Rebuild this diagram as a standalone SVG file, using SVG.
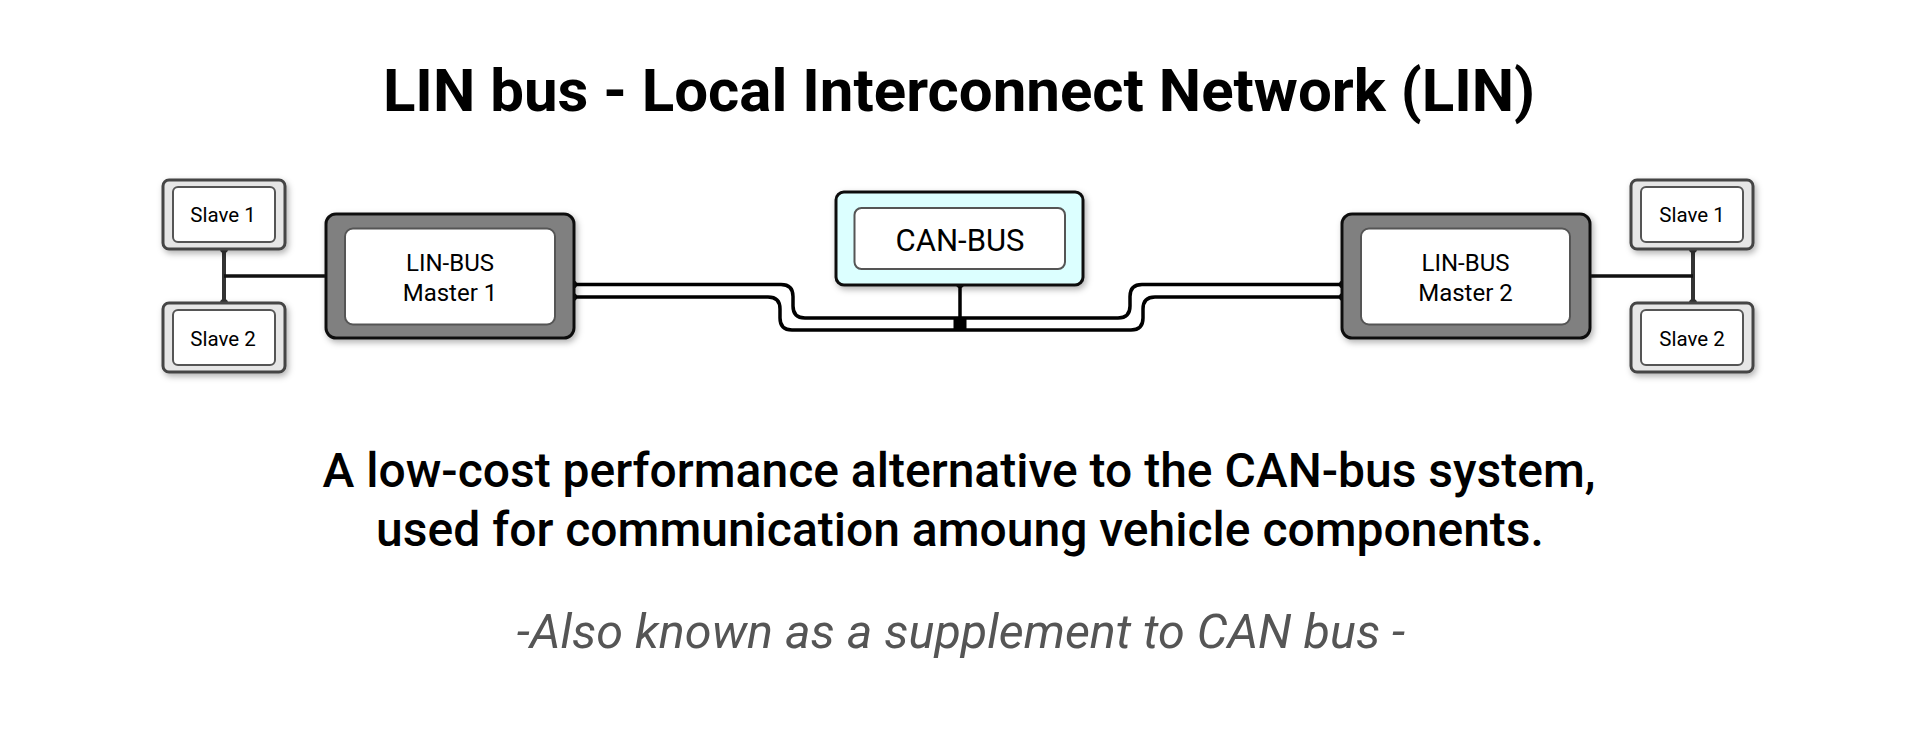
<svg xmlns="http://www.w3.org/2000/svg" width="1920" height="731" viewBox="0 0 1920 731">
<defs>
<filter id="sh" x="-20%" y="-20%" width="140%" height="150%">
<feDropShadow dx="2" dy="3" stdDeviation="3" flood-color="#000" flood-opacity="0.3"/>
</filter>
</defs>
<style>
.t{font-family:Roboto,"Liberation Sans",sans-serif;fill:#000;text-anchor:middle}
.sOut{fill:#e6e6e6;stroke:#444;stroke-width:3}
.sIn{fill:#fff;stroke:#555;stroke-width:2}
.mOut{fill:#808080;stroke:#111;stroke-width:3}
.mIn{fill:#fff;stroke:#555;stroke-width:2}
.cOut{fill:#dcffff;stroke:#111;stroke-width:3}
.bus{fill:none;stroke:#000;stroke-width:3.5}
.sl{fill:none;stroke:#333;stroke-width:4}
.hl{fill:none;stroke:#111;stroke-width:3.5}
.lbl{font-size:20.5px}
.mlbl{font-size:24px}
</style>
<rect width="1920" height="731" fill="#fff"/>
<text class="t" x="959" y="111" font-size="60" font-weight="700">LIN bus - Local Interconnect Network (LIN)</text>

<g id="connectors">
<path class="bus" d="M573 284.5 H781 Q793 284.5 793 296.5 V306 Q793 318 805 318 H1118 Q1130 318 1130 306 V296.5 Q1130 284.5 1142 284.5 H1343"/>
<path class="bus" d="M573 297 H768 Q780 297 780 309 V318 Q780 330 792 330 H1131 Q1143 330 1143 318 V309 Q1143 297 1155 297 H1343"/>
<line class="bus" x1="960" y1="284" x2="960" y2="322"/>
<rect x="953.5" y="318" width="13" height="13" fill="#000"/>
<circle cx="960" cy="284" r="4" fill="#000"/>
<circle cx="573" cy="284.5" r="4" fill="#000"/>
<circle cx="573" cy="297" r="4" fill="#000"/>
<circle cx="1343" cy="284.5" r="4" fill="#000"/>
<circle cx="1343" cy="297" r="4" fill="#000"/>
<line class="sl" x1="224" y1="249" x2="224" y2="303"/>
<line class="hl" x1="224" y1="276" x2="327" y2="276"/>
<circle cx="224" cy="249" r="4" fill="#333"/>
<circle cx="224" cy="303" r="4" fill="#333"/>
<line class="sl" x1="1693" y1="249" x2="1693" y2="303"/>
<line class="hl" x1="1589" y1="276" x2="1693" y2="276"/>
<circle cx="1693" cy="249" r="4" fill="#333"/>
<circle cx="1693" cy="303" r="4" fill="#333"/>
</g>

<g id="slave1-left">
<rect class="sOut" x="163" y="180" width="122" height="69" rx="6" filter="url(#sh)"/>
<rect class="sIn" x="173" y="187" width="102" height="55" rx="5"/>
<text class="t lbl" x="223" y="222">Slave 1</text>
</g>
<g id="slave2-left">
<rect class="sOut" x="163" y="303" width="122" height="69" rx="6" filter="url(#sh)"/>
<rect class="sIn" x="173" y="310" width="102" height="55" rx="5"/>
<text class="t lbl" x="223" y="345.5">Slave 2</text>
</g>
<g id="master1">
<rect class="mOut" x="326" y="214" width="248" height="124" rx="10" filter="url(#sh)"/>
<rect class="mIn" x="345" y="228.5" width="210" height="96" rx="8"/>
<text class="t mlbl" x="450" y="271">LIN-BUS</text>
<text class="t mlbl" x="450" y="300.5">Master 1</text>
</g>
<g id="canbus">
<rect class="cOut" x="836" y="192" width="247" height="93" rx="8" filter="url(#sh)"/>
<rect class="sIn" x="854.5" y="208" width="210.5" height="61" rx="7"/>
<text class="t" x="960" y="250.5" font-size="31">CAN-BUS</text>
</g>
<g id="master2">
<rect class="mOut" x="1342" y="214" width="248" height="124" rx="10" filter="url(#sh)"/>
<rect class="mIn" x="1361" y="228.5" width="209" height="96" rx="8"/>
<text class="t mlbl" x="1465.5" y="271">LIN-BUS</text>
<text class="t mlbl" x="1465.5" y="300.5">Master 2</text>
</g>
<g id="slave1-right">
<rect class="sOut" x="1631" y="180" width="122" height="69" rx="6" filter="url(#sh)"/>
<rect class="sIn" x="1641" y="187" width="102" height="55" rx="5"/>
<text class="t lbl" x="1692" y="222">Slave 1</text>
</g>
<g id="slave2-right">
<rect class="sOut" x="1631" y="303" width="122" height="69" rx="6" filter="url(#sh)"/>
<rect class="sIn" x="1641" y="310" width="102" height="55" rx="5"/>
<text class="t lbl" x="1692" y="345.5">Slave 2</text>
</g>

<text class="t" x="959" y="487" font-size="48" font-weight="500">A low-cost performance alternative to the CAN-bus system,</text>
<text class="t" x="960" y="546" font-size="48" font-weight="500">used for communication amoung vehicle components.</text>
<text class="t" x="961" y="648" font-size="48.5" font-style="italic" style="fill:#555">-Also known as a supplement to CAN bus -</text>
</svg>
